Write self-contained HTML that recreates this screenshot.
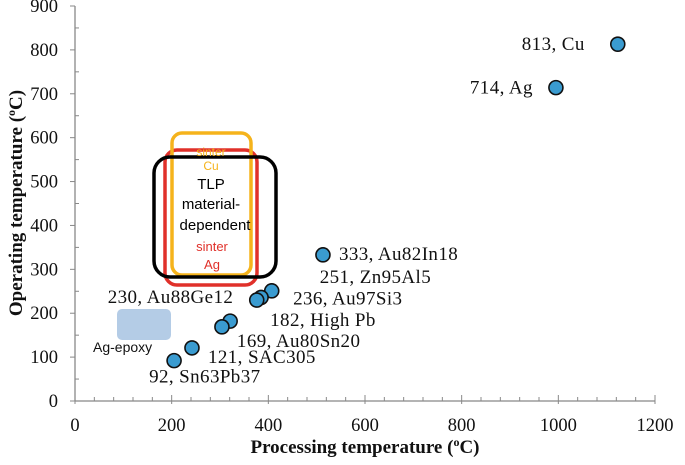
<!DOCTYPE html>
<html><head><meta charset="utf-8"><style>
html,body{margin:0;padding:0;background:#fff;}
svg{display:block;font-family:"Liberation Serif",serif;}
</style></head><body>
<svg id="chart" width="685" height="465" viewBox="0 0 685 465" xmlns="http://www.w3.org/2000/svg">
<g id="axes"></g>
<g id="regions">
  <rect x="117" y="309" width="54" height="31" rx="5" fill="#b4cce6"/>
  <text x="93" y="352" font-family="Liberation Sans,sans-serif" font-size="14" fill="#111">Ag-epoxy</text>
  <rect x="165" y="150" width="92" height="135" rx="12" fill="none" stroke="#e0302a" stroke-width="3.5"/>
  <rect x="172" y="133" width="79" height="142" rx="10" fill="none" stroke="#f5b31c" stroke-width="3.5"/>
  <rect x="154" y="157" width="122" height="120" rx="16" fill="none" stroke="#000" stroke-width="3.5"/>
  <g font-family="Liberation Sans,sans-serif" text-anchor="middle">
    <text x="211" y="156" font-size="12" fill="#f5b31c">sinter</text>
    <text x="211" y="170" font-size="12" fill="#f5b31c">Cu</text>
    <text x="211" y="189" font-size="15" fill="#000">TLP</text>
    <text x="211" y="209" font-size="15" fill="#000">material-</text>
    <text x="215" y="230" font-size="15" fill="#000">dependent</text>
    <text x="212" y="251" font-size="13" fill="#e0302a">sinter</text>
    <text x="212" y="269" font-size="13" fill="#e0302a">Ag</text>
  </g>
</g>
<g id="points"></g>
<g id="labels" font-size="19" letter-spacing="0.4" fill="#111"></g>
</svg>
<script>
const procTemp = [1123, 995, 513, 407, 385, 376, 321, 304, 242, 205];
const opTemp = [813, 714, 333, 251, 236, 230, 182, 169, 121, 92];
const pointLabels = ["813, Cu","714, Ag","333, Au82In18","251, Zn95Al5","236, Au97Si3","230, Au88Ge12","182, High Pb","169, Au80Sn20","121,  SAC305","92, Sn63Pb37"];
const labelDx = [-96, -86, 16, 48, 32, -149, 40, 15, 16, -25];
const labelDy = [6, 6, 5, -8, 7, 3, 5, 20, 15, 22];
const xTicks = [0,200,400,600,800,1000,1200];
const yTicks = [0,100,200,300,400,500,600,700,800,900];

const X0=75, XS=(655-75)/1200, Y0=401, YS=(401-6)/900;
const sx = v => X0 + v*XS;
const sy = v => Y0 - v*YS;
const NS="http://www.w3.org/2000/svg";
function mk(tag, attrs, parent){const e=document.createElementNS(NS,tag);for(const k in attrs)e.setAttribute(k,attrs[k]);parent.appendChild(e);return e;}
const axes=document.getElementById('axes');
let xl=mk('line',{x1:X0,y1:Y0,x2:sx(1200),y2:Y0,stroke:'#888','stroke-width':1.3},axes);


let yl=mk('line',{x1:X0,y1:Y0,x2:X0,y2:sy(900),stroke:'#888','stroke-width':1.3},axes);


for(let v=0;v<=1200;v+=40){const major=v%200===0;const t=mk('line',{x1:sx(v),y1:Y0,x2:sx(v),y2:Y0+(major?-6:-4),stroke:'#888','stroke-width':1},axes);


if(major){mk('line',{x1:sx(v),y1:Y0,x2:sx(v),y2:Y0+3,stroke:'#888'},axes);}}
for(let v=0;v<=900;v+=50){const major=v%100===0;const t=mk('line',{x1:X0-(major?5:0),y1:sy(v),x2:X0+(major?0:4),y2:sy(v),stroke:'#888','stroke-width':1},axes);

}
xTicks.forEach(v=>{const t=mk('text',{x:sx(v),y:431,'text-anchor':'middle','font-size':18.5,fill:'#111'},axes);t.textContent=v;

});
yTicks.forEach(v=>{const t=mk('text',{x:58,y:sy(v)+6,'text-anchor':'end','font-size':18.5,fill:'#111'},axes);t.textContent=v;

});
const xt=mk('text',{x:365,y:453,'text-anchor':'middle','font-size':19,'font-weight':'bold',fill:'#111'},axes);
xt.innerHTML='Processing temperature (<tspan baseline-shift="super" font-size="12">o</tspan>C)';


const yt=mk('text',{x:0,y:0,'text-anchor':'middle','font-size':19,'font-weight':'bold',fill:'#111',transform:'translate(22,203) rotate(-90)'},axes);
yt.innerHTML='Operating temperature (<tspan baseline-shift="super" font-size="12">o</tspan>C)';


const pts=document.getElementById('points'), lbs=document.getElementById('labels');
procTemp.forEach((p,i)=>{
  const c=mk('circle',{cx:sx(p),cy:sy(opTemp[i]),r:7,fill:'#3a9bd0',stroke:'#111','stroke-width':1.6},pts);
  
  
  const t=mk('text',{x:sx(p)+labelDx[i],y:sy(opTemp[i])+labelDy[i]},lbs);
  t.textContent=pointLabels[i];
  
  
});
</script>
</body></html>
